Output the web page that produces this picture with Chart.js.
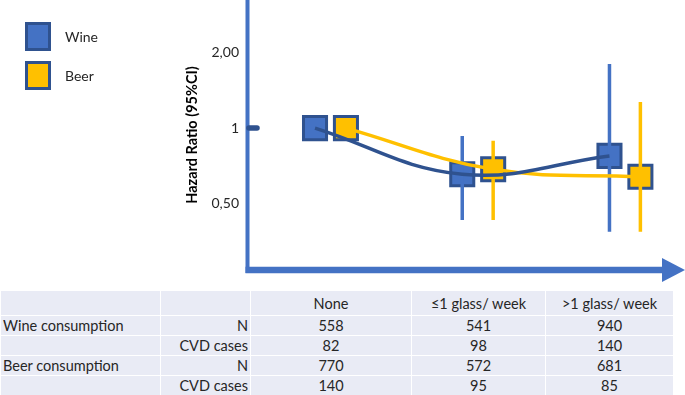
<!DOCTYPE html>
<html>
<head>
<meta charset="utf-8">
<script src="https://cdn.jsdelivr.net/npm/chart.js@4.4.1/dist/chart.umd.min.js"></script>
<style>
  body { margin: 0; background: #fff; font-family: Lato, "Open Sans", sans-serif; color: #262626; }
  #wrap { position: relative; width: 685px; height: 395px; overflow: hidden; }
  #plot { position: absolute; left: 0; top: 0; width: 685px; height: 290px; }
  .legend { position: absolute; left: 25px; font-size: 14px; }
  .legend .box { position: absolute; left: 0; width: 20px; height: 23px; border: 3px solid #2F528F; }
  .legend .txt { position: absolute; left: 40px; white-space: nowrap; }
  table { position: absolute; left: 0; top: 290px; border-collapse: collapse; background: #E9EBF5; font-size: 14.5px; }
  td { border: 1px solid #fff; padding: 0 2px; height: 19px; white-space: nowrap; }
  tr.head td { height: 24px; }
  td.r { text-align: right; }
  td.c { text-align: center; }
</style>
</head>
<body>
<div id="wrap">
  <div id="plot"><canvas id="hrChart"></canvas></div>
  <div class="legend" style="top:22px"><div class="box" style="background:#4472C4"></div><div class="txt" style="top:6px">Wine</div></div>
  <div class="legend" style="top:61px"><div class="box" style="background:#FFC000"></div><div class="txt" style="top:6px">Beer</div></div>
  <table id="counts"></table>
</div>
<script>
// drinking groups
const groups = ['None', '≤1 glass/ week', '>1 glass/ week'];

// hazard ratios
const wineHR = [1, 0.655, 0.775];
const wineLow = [null, 0.43, 0.386];
const wineHigh = [null, 0.93, 1.80];
const beerHR = [1, 0.685, 0.64];
const beerLow = [null, 0.43, 0.386];
const beerHigh = [null, 0.89, 1.27];

// table counts
const wineN = [558, 541, 940];
const wineCases = [82, 98, 140];
const beerN = [770, 572, 681];
const beerCases = [140, 95, 85];

const yTicks = [0.5, 1, 2];
const yTickLabels = ['0,50', '1', '2,00'];

const shift = 0.105; // wine left, beer right of the group

const pts = (vals, dx) => vals.map((v, i) => ({ x: i + 1 + dx, y: v }));
const bars = (lo, hi, dx) => {
    const out = [];
    for (let i = 0; i < lo.length; i++) {
        if (lo[i] == null) continue;
        out.push({ x: i + 1 + dx, y: lo[i] });
        out.push({ x: i + 1 + dx, y: hi[i] });
        out.push({ x: i + 1 + dx, y: null });
    }
    return out;
};

// axes with arrow, drawn under the data
const axesPlugin = {
    id: 'axes',
    beforeDatasetsDraw(chart) {
        const ctx = chart.ctx;
        const a = chart.chartArea;
        const y1 = chart.scales.y.getPixelForValue(1);
        ctx.save();
        ctx.strokeStyle = '#4472C4';
        ctx.lineWidth = 4;
        ctx.beginPath();
        ctx.moveTo(a.left + 0.5, a.top);
        ctx.lineTo(a.left + 0.5, a.bottom + 3);
        ctx.stroke();
        ctx.lineWidth = 6.5;
        ctx.beginPath();
        ctx.moveTo(a.left - 1.5, a.bottom);
        ctx.lineTo(a.right - 22, a.bottom);
        ctx.stroke();
        ctx.fillStyle = '#4472C4';
        ctx.beginPath();
        ctx.moveTo(a.right - 23, a.bottom - 12);
        ctx.lineTo(a.right, a.bottom);
        ctx.lineTo(a.right - 23, a.bottom + 12);
        ctx.closePath();
        ctx.fill();
        ctx.strokeStyle = '#2F528F';
        ctx.lineWidth = 5.5;
        ctx.lineCap = 'round';
        ctx.beginPath();
        ctx.moveTo(a.left + 2, y1);
        ctx.lineTo(a.left + 10, y1);
        ctx.stroke();
        ctx.restore();
    }
};

const ctx = document.getElementById('hrChart');

new Chart(ctx, {
    type: 'scatter',
    data: {
        datasets: [
            { label: 'Wine trend', data: pts(wineHR, -shift), showLine: true, tension: 0.4,
              borderColor: '#2F528F', borderWidth: 3.5, pointRadius: 0, order: 1 },
            { label: 'Beer trend', data: pts(beerHR, shift), showLine: true, tension: 0.4,
              borderColor: '#FFC000', borderWidth: 3.5, pointRadius: 0, order: 2 },
            { label: 'Wine CI', data: bars(wineLow, wineHigh, -shift), showLine: true, spanGaps: false,
              borderColor: '#4472C4', borderWidth: 3.5, pointRadius: 0, order: 3 },
            { label: 'Beer CI', data: bars(beerLow, beerHigh, shift), showLine: true, spanGaps: false,
              borderColor: '#FFC000', borderWidth: 3.5, pointRadius: 0, order: 4 },
            { label: 'Beer', data: pts(beerHR, shift), pointStyle: 'rect', pointRadius: 16.3,
              backgroundColor: '#FFC000', borderColor: '#2F528F', borderWidth: 3, order: 5 },
            { label: 'Wine', data: pts(wineHR, -shift), pointStyle: 'rect', pointRadius: 16.3,
              backgroundColor: '#4472C4', borderColor: '#2F528F', borderWidth: 3, order: 6 },
        ]
    },
    options: {
        responsive: true,
        maintainAspectRatio: false,
        animation: false,
        layout: { autoPadding: false, padding: { left: 180, top: 0, right: 0, bottom: 20 } },
        plugins: {
            legend: { display: false },
            tooltip: { enabled: false },
        },
        scales: {
            x: { type: 'linear', display: false, min: 0.433, max: 3.408 },
            y: {
                type: 'logarithmic',
                min: 0.272,
                max: 3.24,
                afterBuildTicks: (scale) => { scale.ticks = yTicks.map(v => ({ value: v })); },
                afterFit: (scale) => { scale.width = 67; scale.paddingTop = 0; scale.paddingBottom = 0; },
                grid: { display: false, drawTicks: false },
                border: { display: false },
                ticks: {
                    padding: 8,
                    color: '#262626',
                    font: { family: 'Lato', size: 14 },
                    callback: (v) => yTickLabels[yTicks.indexOf(v)] ?? ''
                },
                title: {
                    display: true,
                    text: 'Hazard Ratio (95%CI)',
                    color: '#000',
                    font: { family: 'Lato', size: 14.5, weight: 'bold' },
                    padding: { top: 4, bottom: 4 }
                }
            }
        }
    },
    plugins: [axesPlugin]
});

// table under the plot
const table = document.getElementById('counts');
const widths = [160, 90, 161, 134, 128];
const addRow = (cells, cls) => {
    const tr = document.createElement('tr');
    if (cls) tr.className = cls;
    cells.forEach((c, i) => {
        const td = document.createElement('td');
        td.textContent = c;
        td.style.width = (widths[i] - 5) + 'px';
        if (i === 1) td.className = 'r';
        if (i > 1) td.className = 'c';
        tr.appendChild(td);
    });
    table.appendChild(tr);
};
addRow(['', ''].concat(groups), 'head');
addRow(['Wine consumption', 'N'].concat(wineN));
addRow(['', 'CVD cases'].concat(wineCases));
addRow(['Beer consumption', 'N'].concat(beerN));
addRow(['', 'CVD cases'].concat(beerCases));
</script>
</body>
</html>
